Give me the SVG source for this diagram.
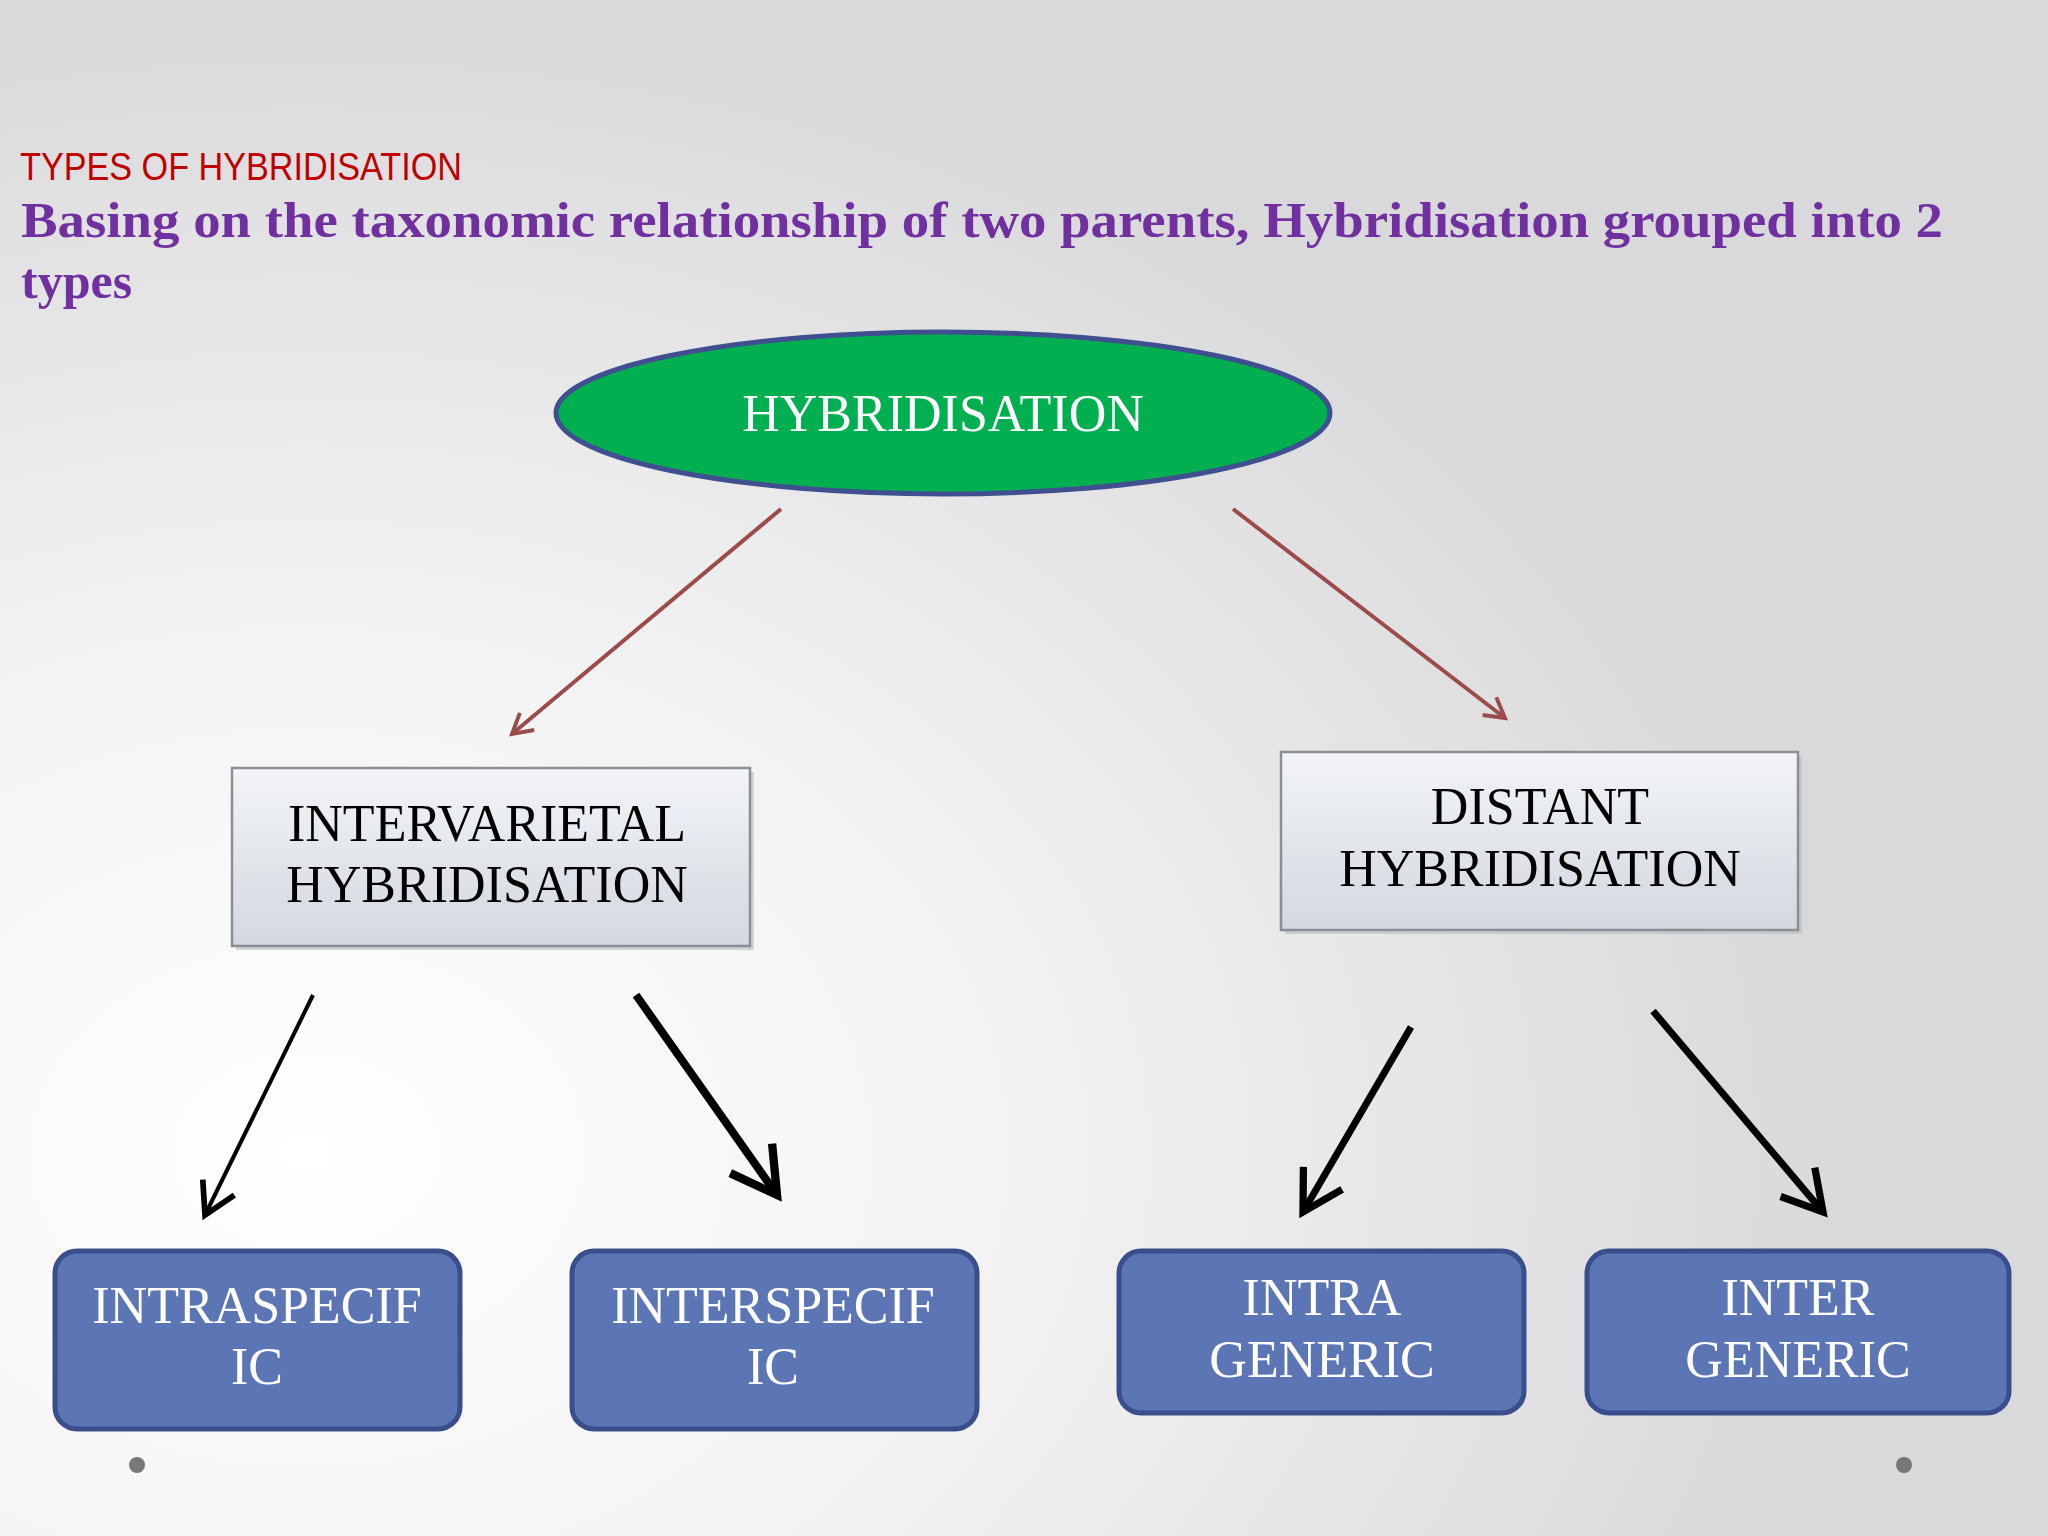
<svg xmlns="http://www.w3.org/2000/svg" width="2048" height="1536" viewBox="0 0 2048 1536">
<defs>
<radialGradient id="bg" cx="0.15" cy="0.75" r="0.75">
<stop offset="0" stop-color="#ffffff"/><stop offset="0.45" stop-color="#f3f3f4"/><stop offset="1" stop-color="#d9d9db"/>
</radialGradient>
<linearGradient id="box" x1="0" y1="0" x2="0" y2="1"><stop offset="0" stop-color="#f2f4f7"/><stop offset="1" stop-color="#d3d8df"/></linearGradient>
<marker id="ar" markerWidth="28" markerHeight="28" refX="8" refY="5" orient="auto" markerUnits="userSpaceOnUse" viewBox="0 0 10 10"><path d="M1,1 L8,5 L1,9" fill="none" stroke="#9B4B4B" stroke-width="1.4"/></marker>
<marker id="ab" markerWidth="8" markerHeight="8" refX="8" refY="5" orient="auto" viewBox="0 0 10 10"><path d="M1,1 L8,5 L1,9" fill="none" stroke="#000" stroke-width="1.3"/></marker>
<marker id="ab2" markerWidth="11" markerHeight="11" refX="8" refY="5" orient="auto" viewBox="0 0 10 10"><path d="M1,1 L8,5 L1,9" fill="none" stroke="#000" stroke-width="1.3"/></marker>
<style>
.serif{font-family:"Liberation Serif","DejaVu Serif",serif}
.bt{font-size:52px;fill:#000;text-anchor:middle}
.wt{font-size:52px;fill:#fff;text-anchor:middle}
.blue{fill:#5B75B5;stroke:#3B4E8C;stroke-width:5}
.gray{fill:url(#box);stroke:#8a8f96;stroke-width:2.5}
</style>
</defs>
<rect width="2048" height="1536" fill="url(#bg)"/>
<text x="20" y="180" font-family="Liberation Sans Narrow,Liberation Sans,sans-serif" font-size="38" fill="#C00000" textLength="442" lengthAdjust="spacingAndGlyphs">TYPES OF HYBRIDISATION</text>
<text x="21" y="237" class="serif" font-size="50" font-weight="bold" fill="#7030A0" textLength="1922" lengthAdjust="spacingAndGlyphs">Basing on the taxonomic relationship of two parents, Hybridisation grouped into 2</text>
<text x="21" y="298" class="serif" font-size="50" font-weight="bold" fill="#7030A0">types</text>
<g id="connectors">
<line x1="781" y1="509" x2="512" y2="734" stroke="#9B4B4B" stroke-width="4" marker-end="url(#ar)"/>
<line x1="1233" y1="509" x2="1505" y2="718" stroke="#9B4B4B" stroke-width="4" marker-end="url(#ar)"/>
<line x1="313" y1="995" x2="205" y2="1215" stroke="#000" stroke-width="4" marker-end="url(#ab2)"/>
<line x1="636" y1="995" x2="777" y2="1195" stroke="#000" stroke-width="8" marker-end="url(#ab)"/>
<line x1="1411" y1="1027" x2="1303" y2="1212" stroke="#000" stroke-width="7" marker-end="url(#ab)"/>
<line x1="1653" y1="1011" x2="1823" y2="1212" stroke="#000" stroke-width="7" marker-end="url(#ab)"/>
</g>
<g id="hyb"><ellipse cx="943" cy="413" rx="387" ry="81" fill="#00B050" stroke="#3F4F8F" stroke-width="5"/>
<text x="943" y="431" class="serif wt">HYBRIDISATION</text></g>
<g id="intervar"><rect x="236" y="772" width="518" height="178" fill="#bbb" opacity="0.6"/><rect x="232" y="768" width="518" height="178" class="gray"/>
<text x="487" y="841" class="serif bt">INTERVARIETAL</text><text x="487" y="902" class="serif bt">HYBRIDISATION</text></g>
<g id="distant"><rect x="1285" y="756" width="517" height="178" fill="#bbb" opacity="0.6"/><rect x="1281" y="752" width="517" height="178" class="gray"/>
<text x="1540" y="824" class="serif bt">DISTANT</text><text x="1540" y="886" class="serif bt">HYBRIDISATION</text></g>
<g id="intraspec"><rect x="55" y="1251" width="405" height="178" rx="22" class="blue"/>
<text x="257" y="1323" class="serif wt">INTRASPECIF</text><text x="257" y="1384" class="serif wt">IC</text></g>
<g id="interspec"><rect x="572" y="1251" width="405" height="178" rx="22" class="blue"/>
<text x="773" y="1323" class="serif wt">INTERSPECIF</text><text x="773" y="1384" class="serif wt">IC</text></g>
<g id="intragen"><rect x="1119" y="1251" width="405" height="162" rx="22" class="blue"/>
<text x="1322" y="1315" class="serif wt">INTRA</text><text x="1322" y="1377" class="serif wt">GENERIC</text></g>
<g id="intergen"><rect x="1587" y="1251" width="422" height="162" rx="22" class="blue"/>
<text x="1798" y="1315" class="serif wt">INTER</text><text x="1798" y="1377" class="serif wt">GENERIC</text></g>
<circle cx="137" cy="1465" r="8" fill="#777"/><circle cx="1904" cy="1465" r="8" fill="#777"/>
</svg>
